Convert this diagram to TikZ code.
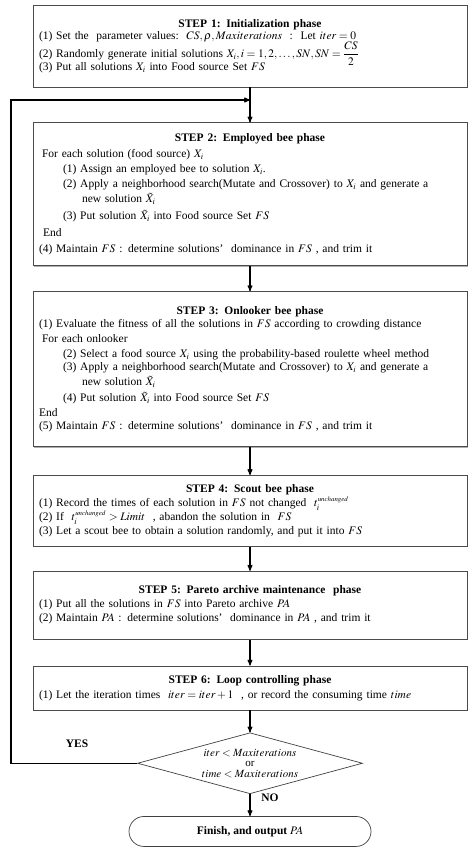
\documentclass[tikz,border=0pt]{standalone}
\usepackage{mathptmx}
\usepackage{fontspec}
\setmainfont{Liberation Serif}
\usetikzlibrary{positioning, shapes.geometric, arrows, shadows}

\newcommand{\steptitle}[1]{\makebox[422pt]{\textbf{#1}}}

\tikzset{
  stepbox/.style={draw=black!70, line width=0.8pt, fill=white, rectangle,
    minimum width=434pt, text width=422pt, inner xsep=6pt, inner ysep=0pt,
    align=left, font=\fontsize{11.5}{14}\selectfont,
    drop shadow={shadow xshift=1pt, shadow yshift=-1pt, fill=black!45, opacity=.7}},
  decision/.style={diamond, draw=black!75, line width=0.7pt, minimum width=225pt,
    minimum height=61pt, inner sep=0pt},
  finish/.style={draw=black!75, line width=0.7pt, rounded corners=15pt,
    minimum width=242pt, minimum height=30pt, font=\fontsize{11.5}{13}\selectfont},
  flow/.style={->, line width=1.1pt}
}

\begin{document}
\begin{tikzpicture}[x=1pt, y=-1pt, >=stealth']
    \useasboundingbox (0,0) rectangle (474,852);

    \node[stepbox, minimum height=82pt] (s1) at (250,46) {%
        \steptitle{STEP 1: Initialization phase}\\[-2pt]
        (1) Set the\ \ parameter values:\ \ $CS,\rho,Maxiterations$\ \ :\ \ Let $iter=0$\\[-1pt]
        (2) Randomly generate initial solutions $X_i, i=1,2,\ldots,SN, SN=\displaystyle\frac{CS}{2}$\\[-4pt]
        (3) Put all solutions $X_i$ into Food source Set $FS$};
    \node[stepbox, minimum height=143pt, below=35pt of s1] (s2) {%
        \steptitle{STEP 2: Employed bee phase}\\[2pt]
        \hspace*{3pt}For each solution (food source) $X_i$\\[1pt]
        \hspace*{24pt}(1) Assign an employed bee to solution $X_i$.\\[1pt]
        \hspace*{24pt}(2) Apply a neighborhood search(Mutate and Crossover) to $X_i$ and generate a\\[1pt]
        \hspace*{43pt}new solution $\tilde{X}_i$\\[3pt]
        \hspace*{24pt}(3) Put solution $\tilde{X}_i$ into Food source Set $FS$\\[3pt]
        \hspace*{4pt}End\\[2pt]
        (4) Maintain $FS$ : determine solutions'\ \ dominance in $FS$ , and trim it};
    \node[stepbox, minimum height=155pt, below=25pt of s2] (s3) {%
        \steptitle{STEP 3: Onlooker bee phase}\\[-1pt]
        (1) Evaluate the fitness of all the solutions in $FS$ according to crowding distance\\[1pt]
        \hspace*{3pt}For each onlooker\\[1pt]
        \hspace*{24pt}(2) Select a food source $X_i$ using the probability-based roulette wheel method\\[-1pt]
        \hspace*{24pt}(3) Apply a neighborhood search(Mutate and Crossover) to $X_i$ and generate a\\[1pt]
        \hspace*{43pt}new solution $\tilde{X}_i$\\[2pt]
        \hspace*{24pt}(4) Put solution $\tilde{X}_i$ into Food source Set $FS$\\[1pt]
        End\\[-1pt]
        (5) Maintain $FS$ : determine solutions'\ \ dominance in $FS$ , and trim it};
    \node[stepbox, minimum height=71pt, below=28pt of s3] (s4) {%
        \steptitle{STEP 4: Scout bee phase}\\
        (1) Record the times of each solution in $FS$ not changed\ \ $t_i^{\scriptscriptstyle unchanged}$\\
        (2) If\ \ $t_i^{\scriptscriptstyle unchanged} > Limit$\ \ , abandon the solution in\ \ $FS$\\
        (3) Let a scout bee to obtain a solution randomly, and put it into $FS$};
    \node[stepbox, minimum height=68pt, below=24pt of s4] (s5) {%
        \steptitle{STEP 5: Pareto archive maintenance\ \ phase}\\
        (1) Put all the solutions in $FS$ into Pareto archive $PA$\\
        (2) Maintain $PA$ : determine solutions'\ \ dominance in $PA$ , and trim it};
    \node[stepbox, minimum height=44pt, below=26pt of s5] (s6) {%
        \steptitle{STEP 6: Loop controlling phase}\\[1pt]
        (1) Let the iteration times\ \ $iter=iter+1$\ \ , or record the consuming time $time$};
    \node[decision, below=22pt of s6,
          label={[align=center, font=\fontsize{11}{10.5}\selectfont]center:{$iter < Maxiterations$\\or\\$time < Maxiterations$}}] (dec) {};
    \node[finish, below=22pt of dec] (fin) {\textbf{Finish, and output} $PA$};

    % loop back
    \coordinate (lp) at (11,100);
    \coordinate (jn) at (250,100);
    \node[font=\fontsize{11.5}{13}\selectfont\bfseries] (yes) at (77,744) {YES};
    \node[font=\fontsize{11.5}{13}\selectfont\bfseries] (no) at (270,798) {NO};

    \draw[flow] (s1) -- (s2);
    \draw[flow] (s2) -- (s3);
    \draw[flow] (s3) -- (s4);
    \draw[flow] (s4) -- (s5);
    \draw[flow] (s5) -- (s6);
    \draw[flow] (s6) -- (dec);
    \draw[flow] (dec) -- (fin);
    \draw[flow] (dec.west) -| (lp) -- (jn);
\end{tikzpicture}
\end{document}
